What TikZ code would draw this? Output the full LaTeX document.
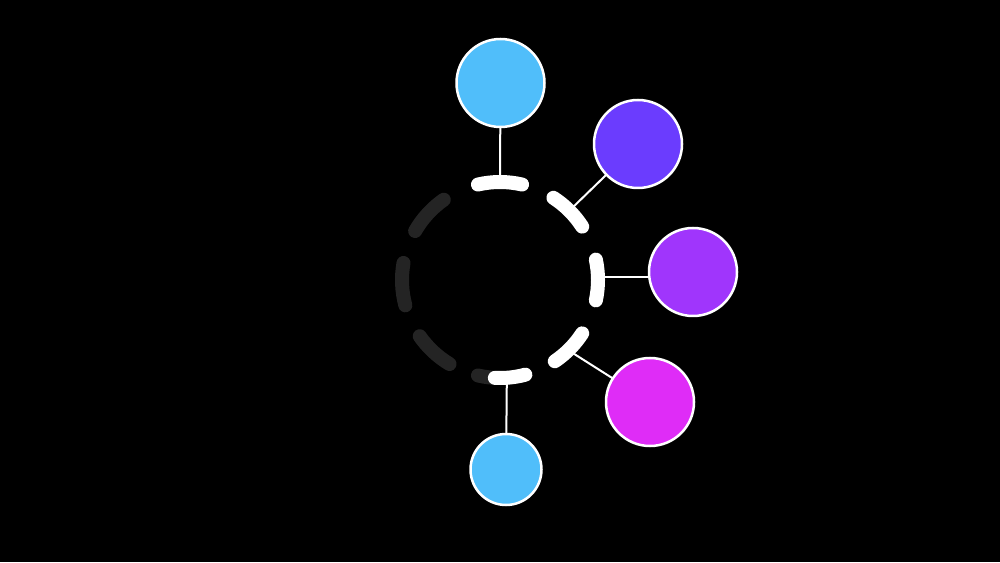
\documentclass[tikz,border=0pt]{standalone}
\usetikzlibrary{calc}
\definecolor{skyblue}{RGB}{80,190,250}
\definecolor{bluepurple}{RGB}{107,60,254}
\definecolor{violetc}{RGB}{160,53,252}
\definecolor{magentac}{RGB}{223,44,247}
\definecolor{ringgray}{RGB}{36,36,36}
\begin{document}
\begin{tikzpicture}[x=1pt,y=1pt,
  seg/.style={line width=14pt,line cap=round,white},
  seggray/.style={line width=14pt,line cap=round,ringgray},
  conn/.style={white,line width=2pt},
  bubble/.style={circle,draw=white,line width=2.5pt,minimum size=88pt,inner sep=0pt,outer sep=0pt},
  smallbubble/.style={bubble,minimum size=71pt}]
\fill[black] (0,0) rectangle (1000,562);
\useasboundingbox (0,0) rectangle (1000,562);
\coordinate (O) at (500,282);
% ring coordinates for connectors
\coordinate (r1) at ($(O)+(90:98)$);
\coordinate (r2) at ($(O)+(45:98)$);
\coordinate (r3) at ($(O)+(2:98)$);
\coordinate (r4) at ($(O)+(-45:104)$);
\coordinate (r5) at ($(O)+(-86:98)$);
% bubbles
\node[bubble,fill=skyblue] (c1) at (500.5,479) {};
\node[bubble,fill=bluepurple] (c2) at (638,418) {};
\node[bubble,fill=violetc] (c3) at (693,290) {};
\node[bubble,fill=magentac] (c4) at (650,160) {};
\node[smallbubble,fill=skyblue] (c5) at (506,92.5) {};
% connectors
\draw[conn] (c1) -- (r1);
\draw[conn] (c2) -- (r2);
\draw[conn] (r3) -- (c3.west |- r3);
\draw[conn] (r4) -- (c4);
\draw[conn] (c5) -- (r5);
% gray segments (left half)
\draw[seggray] ($(O)+(125:98)$) arc[start angle=125,end angle=150,radius=98pt];
\draw[seggray] ($(O)+(170:98)$) arc[start angle=170,end angle=195,radius=98pt];
\draw[seggray] ($(O)+(215:98)$) arc[start angle=215,end angle=239,radius=98pt];
\draw[seggray] ($(O)+(-103:98)$) arc[start angle=-103,end angle=-90,radius=98pt];
% white segments (right half)
\draw[seg] ($(O)+(77:98)$) arc[start angle=77,end angle=103,radius=98pt];
\draw[seg] ($(O)+(33:98)$) arc[start angle=33,end angle=57,radius=98pt];
\draw[seg] ($(O)+(-12:98)$) arc[start angle=-12,end angle=12,radius=98pt];
\draw[seg] ($(O)+(-56:98)$) arc[start angle=-56,end angle=-33,radius=98pt];
\draw[seg] ($(O)+(-93:98)$) arc[start angle=-93,end angle=-75,radius=98pt];
\end{tikzpicture}
\end{document}
